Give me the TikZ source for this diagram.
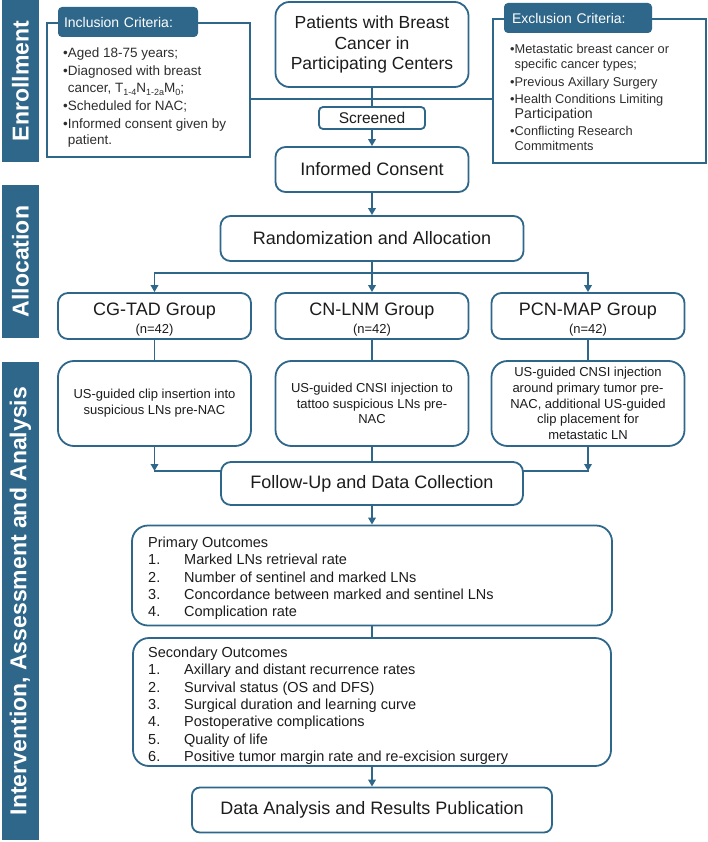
\documentclass[tikz,border=0pt]{standalone}
\usepackage{fontspec}
\setmainfont{Liberation Sans}
\usetikzlibrary{arrows.meta,calc}
\definecolor{navy}{RGB}{46,103,138}
\definecolor{ink}{RGB}{28,28,28}
\definecolor{ink2}{RGB}{45,45,45}
\newcommand{\fsz}[2]{\fontsize{#1}{#2}\selectfont}
\newcommand{\lowsub}[1]{\raisebox{-0.4ex}{\fsz{9}{10}#1}}
\newcommand{\topstrut}{\rule{0pt}{19pt}}
\begin{document}
\begin{tikzpicture}[x=1pt,y=-1pt,
  box/.style={draw=navy, line width=1.8pt, rounded corners=10pt, fill=white, text=ink, align=center, inner sep=0pt},
  frame/.style={draw=navy, line width=1.8pt, inner sep=0pt},
  tab/.style={fill=navy, rounded corners=4pt, text=white, inner ysep=0pt, align=left, font={\fsz{14}{16}}},
  bar/.style={fill=navy, text=white, font={\bfseries\fsz{23}{26}}, inner sep=0pt, rotate=90},
  line/.style={draw=navy, line width=1.8pt},
  arr/.style={line, -{Triangle[length=7pt,width=7.5pt]}},
  list/.style={anchor=north west, align=left, inner sep=0pt, text=ink2},
]
\useasboundingbox (0,0) rectangle (708,842);
% side bars
\node[bar, minimum width=162pt, minimum height=37pt] (b1) at (20.5,81) {Enrollment};
\node[bar, minimum width=153pt, minimum height=37pt] (b2) at (20.5,261.5) {Allocation};
\node[bar, minimum width=478pt, minimum height=37pt] (b3) at (20.5,601) {Intervention, Assessment and Analysis};
% criteria frames
\node[frame, minimum width=203pt, minimum height=134pt] (incl) at (148.5,90) {};
\node[tab, text width=128pt, inner xsep=6pt, minimum height=30pt] (inclt) at (128,22) {Inclusion Criteria:};
\node[list, font={\fsz{13.5}{16.5}}] (incll) at (63,48) {%
•Aged 18-75 years;\\[1.5pt]%
•Diagnosed with breast\\%
\phantom{•}cancer, T\lowsub{1-4}N\lowsub{1-2a}M\lowsub{0};\\[1.5pt]%
•Scheduled for NAC;\\[1.5pt]%
•Informed consent given by\\%
\phantom{•}patient.};
\node[frame, minimum width=213pt, minimum height=144pt] (excl) at (599.5,91) {};
\node[tab, text width=132pt, inner xsep=8pt, minimum height=30pt] (exclt) at (578,18) {Exclusion Criteria:};
\node[list, font={\fsz{12.8}{14.6}}] (excll) at (510,44.5) {%
•Metastatic breast cancer or\\%
\phantom{•}specific cancer types;\\[3pt]%
•Previous Axillary Surgery\\[3pt]%
•Health Conditions Limiting\\%
\phantom{•}{\fsz{14.2}{14.6}Participation}\\[3pt]%
•Conflicting Research\\%
\phantom{•}Commitments};
% main flow
\node[box, minimum width=193pt, minimum height=85pt, rounded corners=14pt, font={\fsz{17.5}{20.5}}] (pat) at (372,44.5) {Patients with Breast\\Cancer in\\Participating Centers};
\node[box, minimum width=106pt, minimum height=22pt, rounded corners=4pt, font={\fsz{15.5}{18}}] (scr) at (372,118) {Screened};
\node[box, minimum width=193pt, minimum height=45pt, font={\fsz{18}{21}}] (ic) at (372,169.5) {Informed Consent};
\node[box, minimum width=303pt, minimum height=45pt, font={\fsz{18}{21}}] (rand) at (372,238.5) {Randomization and Allocation};
\node[box, minimum width=193pt, minimum height=46pt, font={\fsz{18}{18}}] (g1) at (154.5,316) {\topstrut CG-TAD Group\\{\fsz{13}{15}(n=42)}};
\node[box, minimum width=193pt, minimum height=46pt, font={\fsz{18}{18}}] (g2) at (372,316) {\topstrut CN-LNM Group\\{\fsz{13}{15}(n=42)}};
\node[box, minimum width=193pt, minimum height=46pt, font={\fsz{18}{18}}] (g3) at (588,316) {\topstrut PCN-MAP Group\\{\fsz{13}{15}(n=42)}};
\node[box, minimum width=193pt, minimum height=85pt, rounded corners=16pt, font={\fsz{13}{15.8}}] (u1) at (154.5,403.5) {US-guided clip insertion into\\suspicious LNs pre-NAC};
\node[box, minimum width=193pt, minimum height=85pt, rounded corners=16pt, font={\fsz{13}{15.8}}] (u2) at (372,403.5) {US-guided CNSI injection to\\tattoo suspicious LNs pre-\\NAC};
\node[box, minimum width=193pt, minimum height=85pt, rounded corners=16pt, font={\fsz{13}{15.8}}] (u3) at (588,403.5) {US-guided CNSI injection\\around primary tumor pre-\\NAC, additional US-guided\\clip placement for\\metastatic LN};
\node[box, minimum width=302pt, minimum height=43pt, font={\fsz{18}{21}}] (fu) at (372,483.5) {Follow-Up and Data Collection};
\node[box, minimum width=480pt, minimum height=100pt, rounded corners=16pt] (po) at (372,575.5) {};
\node[list, font={\fsz{14.5}{17.4}}, text=ink] (pot) at (148,536.5) {%
Primary Outcomes\\%
\makebox[36pt][l]{1.}Marked LNs retrieval rate\\%
\makebox[36pt][l]{2.}Number of sentinel and marked LNs\\%
\makebox[36pt][l]{3.}Concordance between marked and sentinel LNs\\%
\makebox[36pt][l]{4.}Complication rate};
\node[box, minimum width=478pt, minimum height=128pt, rounded corners=16pt] (so) at (372,702) {};
\node[list, font={\fsz{14.5}{17.4}}, text=ink] (sot) at (148,646.5) {%
Secondary Outcomes\\%
\makebox[36pt][l]{1.}Axillary and distant recurrence rates\\%
\makebox[36pt][l]{2.}Survival status (OS and DFS)\\%
\makebox[36pt][l]{3.}Surgical duration and learning curve\\%
\makebox[36pt][l]{4.}Postoperative complications\\%
\makebox[36pt][l]{5.}Quality of life\\%
\makebox[36pt][l]{6.}Positive tumor margin rate and re-excision surgery};
\node[box, minimum width=360pt, minimum height=45pt, rounded corners=8pt, font={\fsz{18}{21}}] (da) at (372,810) {Data Analysis and Results Publication};
% connectors
\coordinate (j1) at (372,99);
\coordinate (j2) at (372,273);
\coordinate (j3) at (372,471);
\draw[line] (pat.south) -- (scr.north);
\draw[line] (incl.east |- j1) -- (excl.west |- j1);
\draw[arr] (scr.south) -- (ic.north);
\draw[arr] (ic.south) -- (rand.north);
\draw[arr] (rand.south) -- (g2.north);
\draw[arr] (j2) -| (g1.north);
\draw[arr] (j2) -| (g3.north);
\draw[line] (g1.south) -- (u1.north);
\draw[line] (g2.south) -- (u2.north);
\draw[line] (g3.south) -- (u3.north);
\draw[arr] (u1.south) -- (u1.south |- j3);
\draw[line, line cap=rect] (u1.south |- j3) -- (fu.west |- j3);
\draw[arr] (u3.south) -- (u3.south |- j3);
\draw[line, line cap=rect] (u3.south |- j3) -- (fu.east |- j3);
\draw[line] (u2.south) -- (fu.north);
\draw[arr] (fu.south) -- (po.north);
\draw[line] (po.south) -- (so.north);
\draw[arr] (so.south) -- (da.north);
\end{tikzpicture}
\end{document}
